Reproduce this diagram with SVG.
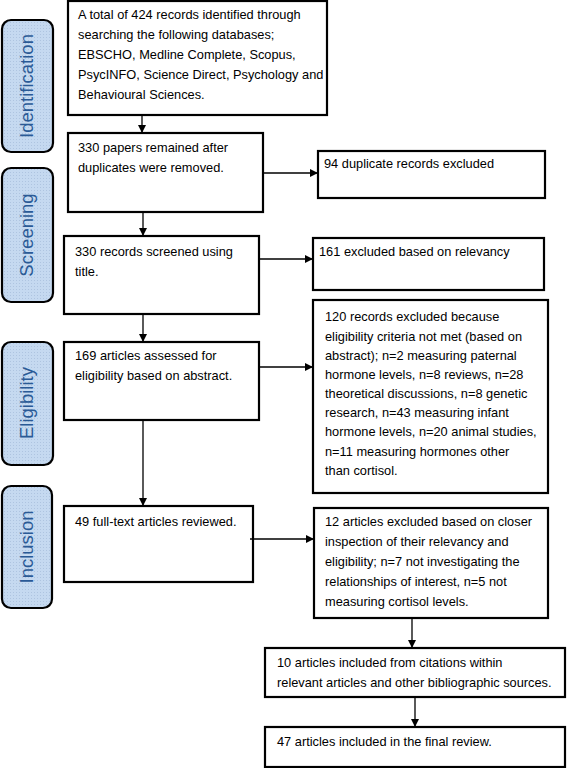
<svg xmlns="http://www.w3.org/2000/svg" width="567" height="768" viewBox="0 0 567 768">
<defs>
<marker id="ah" markerWidth="8" markerHeight="8" refX="7" refY="4" orient="auto" markerUnits="userSpaceOnUse">
<path d="M0,0 L8,4 L0,8 z" fill="#000"/>
</marker>
<pattern id="dots" width="3" height="3" patternUnits="userSpaceOnUse">
<rect width="3" height="3" fill="#c5d9f0"/>
<rect x="1" y="1" width="1" height="1" fill="#aec4e0"/>
</pattern>
</defs>
<style>
.box{fill:#fff;stroke:#000;stroke-width:2.2}
.stage{fill:url(#dots);stroke:#000;stroke-width:2.2}
.t{font-family:"Liberation Sans",Arial,sans-serif;font-size:12.8px;fill:#000}
.st{font-family:"Liberation Sans",Arial,sans-serif;font-size:18.5px;fill:#2a5a96;text-anchor:middle}
.c{stroke:#000;stroke-width:1.3;fill:none;marker-end:url(#ah)}
</style>
<rect width="567" height="768" fill="#fff"/>

<g id="stage-identification"><rect class="stage" x="2" y="20" width="51" height="132" rx="9"/><text class="st" transform="translate(33,86) rotate(-90)">Identification</text></g>
<g id="stage-screening"><rect class="stage" x="2" y="168" width="51" height="134" rx="9"/><text class="st" transform="translate(33,235) rotate(-90)">Screening</text></g>
<g id="stage-eligibility"><rect class="stage" x="2" y="342" width="51" height="123" rx="9"/><text class="st" transform="translate(33,403) rotate(-90)">Eligibility</text></g>
<g id="stage-inclusion"><rect class="stage" x="2" y="486" width="50" height="122" rx="9"/><text class="st" transform="translate(33,547) rotate(-90)">Inclusion</text></g>

<g id="n1"><rect class="box" x="68" y="1" width="259" height="114"/>
<text class="t" x="78" y="19">A total of 424 records identified through</text>
<text class="t" x="78" y="39">searching the following databases;</text>
<text class="t" x="78" y="59">EBSCHO, Medline Complete, Scopus,</text>
<text class="t" x="78" y="79">PsycINFO, Science Direct, Psychology and</text>
<text class="t" x="78" y="99">Behavioural Sciences.</text></g>

<g id="n2"><rect class="box" x="68" y="133" width="195" height="79"/>
<text class="t" x="78" y="152">330 papers remained after</text>
<text class="t" x="78" y="172">duplicates were removed.</text></g>

<g id="n3"><rect class="box" x="64" y="236" width="195" height="78"/>
<text class="t" x="75" y="256">330 records screened using</text>
<text class="t" x="75" y="276">title.</text></g>

<g id="n4"><rect class="box" x="64" y="342" width="195" height="78"/>
<text class="t" x="75" y="360">169 articles assessed for</text>
<text class="t" x="75" y="380">eligibility based on abstract.</text></g>

<g id="n5"><rect class="box" x="64" y="506" width="189" height="76"/>
<text class="t" x="75" y="526">49 full-text articles reviewed.</text></g>

<g id="n6"><rect class="box" x="318" y="151" width="227" height="47"/>
<text class="t" x="324" y="168">94 duplicate records excluded</text></g>

<g id="n7"><rect class="box" x="313" y="238" width="231" height="52"/>
<text class="t" x="319" y="256">161 excluded based on relevancy</text></g>

<g id="n8"><rect class="box" x="313" y="300" width="235" height="193"/>
<text class="t" x="325" y="321">120 records excluded because</text>
<text class="t" x="325" y="341">eligibility criteria not met (based on</text>
<text class="t" x="325" y="360">abstract); n=2 measuring paternal</text>
<text class="t" x="325" y="379">hormone levels, n=8 reviews, n=28</text>
<text class="t" x="325" y="398">theoretical discussions, n=8 genetic</text>
<text class="t" x="325" y="417">research, n=43 measuring infant</text>
<text class="t" x="325" y="436">hormone levels, n=20 animal studies,</text>
<text class="t" x="325" y="456">n=11 measuring hormones other</text>
<text class="t" x="325" y="475">than cortisol.</text></g>

<g id="n9"><rect class="box" x="314" y="508" width="234" height="110"/>
<text class="t" x="325" y="526">12 articles excluded based on closer</text>
<text class="t" x="325" y="546">inspection of their relevancy and</text>
<text class="t" x="325" y="566">eligibility; n=7 not investigating the</text>
<text class="t" x="325" y="586">relationships of interest, n=5 not</text>
<text class="t" x="325" y="606">measuring cortisol levels.</text></g>

<g id="n10"><rect class="box" x="265" y="648" width="300" height="49"/>
<text class="t" x="277" y="667">10 articles included from citations within</text>
<text class="t" x="277" y="687">relevant articles and other bibliographic sources.</text></g>

<g id="n11"><rect class="box" x="265" y="727" width="300" height="40"/>
<text class="t" x="277" y="746">47 articles included in the final review.</text></g>

<g id="connectors">
<line class="c" x1="142" y1="115" x2="142" y2="132"/>
<line class="c" x1="263" y1="173" x2="317" y2="173"/>
<line class="c" x1="143" y1="212" x2="143" y2="235"/>
<line class="c" x1="259" y1="259" x2="312" y2="259"/>
<line class="c" x1="143" y1="314" x2="143" y2="341"/>
<line class="c" x1="259" y1="367" x2="312" y2="367"/>
<line class="c" x1="143" y1="420" x2="143" y2="505"/>
<line class="c" x1="250" y1="539" x2="313" y2="539"/>
<line class="c" x1="412" y1="618" x2="412" y2="647"/>
<line class="c" x1="415" y1="697" x2="415" y2="726"/>
</g>
</svg>
